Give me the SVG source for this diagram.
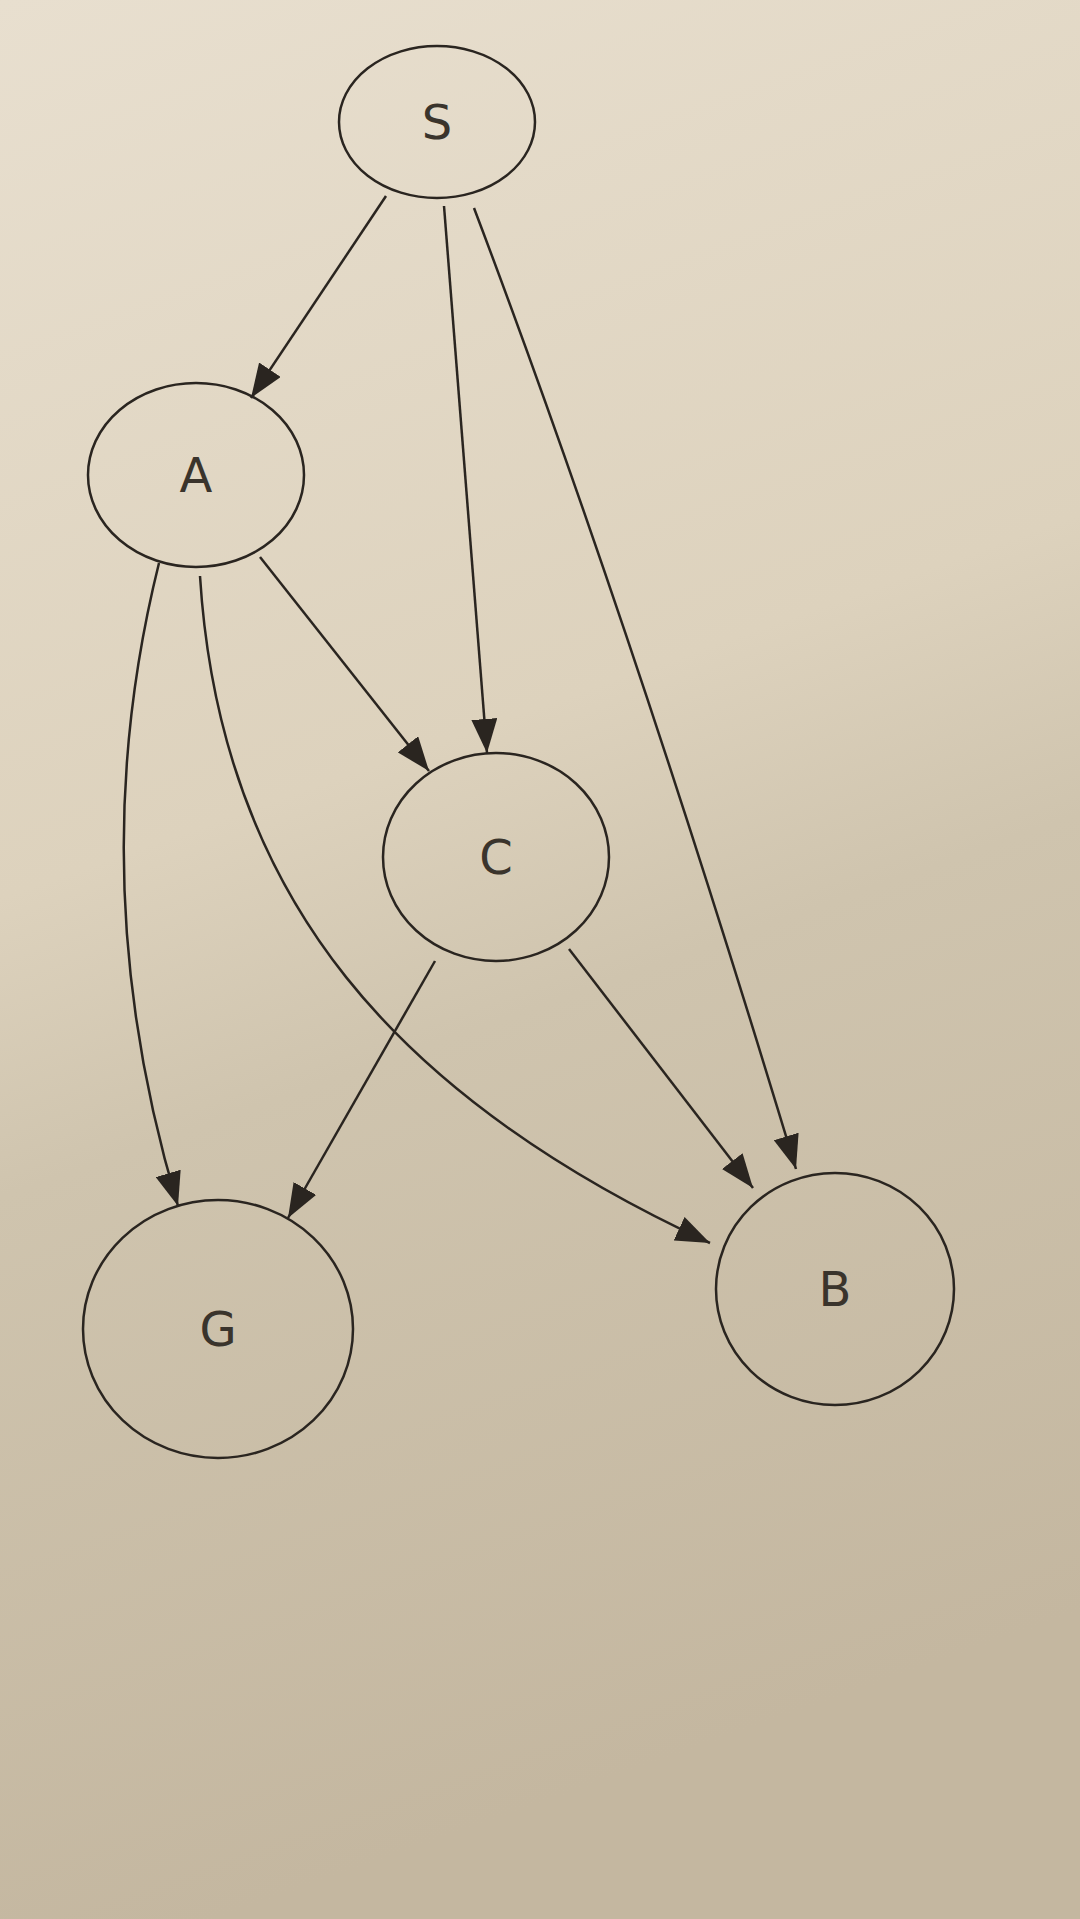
<svg xmlns="http://www.w3.org/2000/svg" width="1080" height="1919" viewBox="0 0 1080 1919">
<defs>
<linearGradient id="bg" x1="0" y1="0" x2="0.2" y2="1">
<stop offset="0" stop-color="#e8dfcf"/>
<stop offset="0.45" stop-color="#ddd2bd"/>
<stop offset="0.6" stop-color="#cfc4ae"/>
<stop offset="1" stop-color="#c4b7a0"/>
</linearGradient>
<marker id="ah" viewBox="0 0 10 10" refX="10" refY="5" markerWidth="34" markerHeight="26" markerUnits="userSpaceOnUse" orient="auto" preserveAspectRatio="none">
<path d="M0,0 L10,5 L0,10 z" fill="#2a2520"/>
</marker>
<style>
.n{fill:none;stroke:#2a2520;stroke-width:2.5}
.e{fill:none;stroke:#2a2520;stroke-width:2.5;marker-end:url(#ah)}
.t{font-family:"DejaVu Sans",sans-serif;font-size:48px;fill:#3a342c;text-anchor:middle;dominant-baseline:central}
</style>
</defs>
<rect width="1080" height="1919" fill="url(#bg)"/>
<g id="connectors">
<path class="e" d="M386,196 L251,398"/>
<path class="e" d="M444,206 L487,753"/>
<path class="e" d="M474,208 Q630,620 796,1169"/>
<path class="e" d="M260,557 L429,771"/>
<path class="e" d="M159,563 Q80,880 178,1206"/>
<path class="e" d="M200,576 C220,900 400,1100 710,1243"/>
<path class="e" d="M435,961 L288,1218"/>
<path class="e" d="M569,949 L753,1188"/>
</g>
<g id="S"><ellipse class="n" cx="437" cy="122" rx="98" ry="76"/><text class="t" x="437" y="122">S</text></g>
<g id="A"><ellipse class="n" cx="196" cy="475" rx="108" ry="92"/><text class="t" x="196" y="475">A</text></g>
<g id="C"><ellipse class="n" cx="496" cy="857" rx="113" ry="104"/><text class="t" x="496" y="857">C</text></g>
<g id="G"><ellipse class="n" cx="218" cy="1329" rx="135" ry="129"/><text class="t" x="218" y="1329">G</text></g>
<g id="B"><ellipse class="n" cx="835" cy="1289" rx="119" ry="116"/><text class="t" x="835" y="1289">B</text></g>
</svg>
